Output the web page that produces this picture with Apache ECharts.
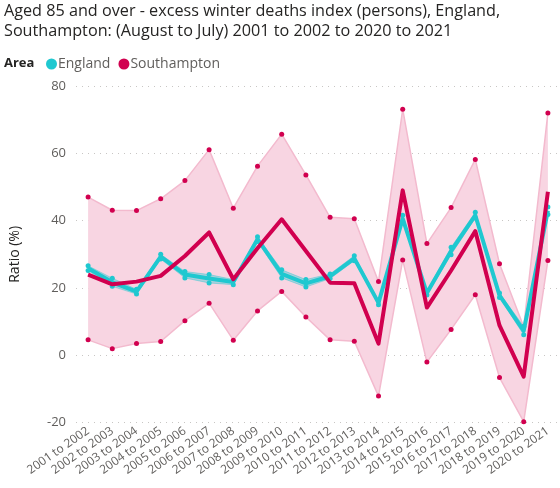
<!DOCTYPE html>
<html>
<head>
<meta charset="utf-8">
<script src="https://cdn.jsdelivr.net/npm/echarts@6/dist/echarts.min.js"></script>
<style>
html,body{margin:0;padding:0;background:#fff;}
#chart{width:560px;height:488px;}
</style>
</head>
<body>
<div id="chart"></div>
<script>
const categories = ['2001 to 2002','2002 to 2003','2003 to 2004','2004 to 2005','2005 to 2006','2006 to 2007','2007 to 2008','2008 to 2009','2009 to 2010','2010 to 2011','2011 to 2012','2012 to 2013','2013 to 2014','2014 to 2015','2015 to 2016','2016 to 2017','2017 to 2018','2018 to 2019','2019 to 2020','2020 to 2021'];

const englandValues = [25.9, 21.7, 18.9, 29.3, 24.0, 22.8, 21.8, 34.5, 24.2, 21.4, 23.5, 28.8, 15.6, 40.6, 18.5, 31.0, 41.6, 17.8, 7.3, 43.0];
const englandLower  = [25.2, 20.5, 18.2, 28.6, 23.0, 21.5, 21.0, 33.8, 23.0, 20.3, 22.8, 28.1, 15.0, 39.8, 17.9, 29.9, 40.8, 17.2, 6.1, 41.8];
const englandUpper  = [26.6, 22.9, 19.6, 30.0, 24.9, 24.0, 22.5, 35.2, 25.4, 22.5, 24.2, 29.6, 16.3, 41.6, 19.1, 32.1, 42.5, 18.5, 8.6, 44.1];

const southamptonValues = [24.0, 21.1, 21.9, 23.6, 29.5, 36.5, 22.6, 31.8, 40.4, 31.0, 21.6, 21.4, 3.5, 49.0, 14.2, 25.2, 36.9, 8.9, -6.3, 48.6];
const southamptonLower  = [4.6, 2.0, 3.5, 4.1, 10.3, 15.5, 4.5, 13.2, 19.0, 11.4, 4.6, 4.2, -12.1, 28.3, -2.0, 7.7, 18.0, -6.6, -19.7, 28.2];
const southamptonUpper  = [47.0, 43.1, 43.0, 46.5, 51.9, 61.1, 43.7, 56.2, 65.7, 53.6, 41.0, 40.6, 21.9, 73.1, 33.2, 43.9, 58.2, 27.2, 8.5, 72.0];

const yTicks = [-20, 0, 20, 40, 60, 80];

const RED = '#D1004F';
const CYAN = '#1FC8D0';
const FONT = '"Open Sans", "Noto Sans", sans-serif';

const sDiff = southamptonUpper.map((u, i) => +(u - southamptonLower[i]).toFixed(2));
const eDiff = englandUpper.map((u, i) => +(u - englandLower[i]).toFixed(2));

const chart = echarts.init(document.getElementById('chart'));
chart.setOption({
  animation: false,
  textStyle: { fontFamily: FONT },
  title: [
    {
      text: 'Aged 85 and over - excess winter deaths index (persons), England,\nSouthampton: (August to July) 2001 to 2002 to 2020 to 2021',
      left: 4, top: 1, padding: 0,
      textStyle: { fontFamily: FONT, fontSize: 16.2, fontWeight: 'normal', color: '#252423', lineHeight: 20 }
    },
    {
      text: 'Area',
      left: 4, top: 57, padding: 0,
      textStyle: { fontFamily: FONT, fontSize: 13, fontWeight: 'bold', color: '#252423' }
    }
  ],
  legend: {
    data: [{ name: 'England' }, { name: 'Southampton' }],
    left: 41, top: 52,
    icon: 'circle',
    itemWidth: 11, itemHeight: 11, itemGap: 8,
    textStyle: { fontFamily: FONT, fontSize: 14, color: '#605E5C', padding: [0, 0, 0, -4] }
  },
  grid: { left: 75, right: -7, top: 86, bottom: 65.3, containLabel: false },
  xAxis: {
    type: 'category',
    data: categories,
    boundaryGap: true,
    axisLine: { show: false },
    axisTick: { show: false },
    axisLabel: { rotate: 35, margin: 7, fontSize: 12, color: '#605E5C', fontFamily: FONT, interval: 0 },
    splitLine: { show: false }
  },
  yAxis: {
    type: 'value',
    min: yTicks[0], max: yTicks[yTicks.length - 1], interval: 20,
    name: 'Ratio (%)',
    nameLocation: 'middle',
    nameGap: 54,
    nameTextStyle: { fontFamily: FONT, fontSize: 14, color: '#252423' },
    axisLine: { show: false },
    axisTick: { show: false },
    axisLabel: { fontSize: 13, color: '#605E5C', margin: 10, fontFamily: FONT },
    splitLine: { show: true, lineStyle: { type: [1, 5], color: '#C8C6C4', width: 1 } }
  },
  series: [
    {
      name: 'sLowBase', type: 'line', data: southamptonLower, stack: 'sband', stackStrategy: 'all',
      symbol: 'none', lineStyle: { opacity: 0 }, silent: true, z: 1
    },
    {
      name: 'sBand', type: 'line', data: sDiff, stack: 'sband', stackStrategy: 'all',
      symbol: 'none', lineStyle: { opacity: 0 }, areaStyle: { color: '#F8D5E2', opacity: 1 }, silent: true, z: 1
    },
    {
      name: 'sUpper', type: 'line', data: southamptonUpper,
      symbol: 'circle', symbolSize: 5, itemStyle: { color: RED },
      lineStyle: { color: '#F3BACE', width: 1.5 }, silent: true, z: 2
    },
    {
      name: 'sLower', type: 'line', data: southamptonLower,
      symbol: 'circle', symbolSize: 5, itemStyle: { color: RED },
      lineStyle: { color: '#F3BACE', width: 1.5 }, silent: true, z: 2
    },
    {
      name: 'eLowBase', type: 'line', data: englandLower, stack: 'eband', stackStrategy: 'all',
      symbol: 'none', lineStyle: { opacity: 0 }, silent: true, z: 3
    },
    {
      name: 'eBand', type: 'line', data: eDiff, stack: 'eband', stackStrategy: 'all',
      symbol: 'none', lineStyle: { opacity: 0 }, areaStyle: { color: 'rgba(31,200,208,0.35)', opacity: 1 }, silent: true, z: 3
    },
    {
      name: 'eUpper', type: 'line', data: englandUpper,
      symbol: 'circle', symbolSize: 5, itemStyle: { color: CYAN },
      lineStyle: { color: 'rgba(31,200,208,0.4)', width: 1 }, silent: true, z: 3
    },
    {
      name: 'eLower', type: 'line', data: englandLower,
      symbol: 'circle', symbolSize: 5, itemStyle: { color: CYAN },
      lineStyle: { color: 'rgba(31,200,208,0.4)', width: 1 }, silent: true, z: 3
    },
    {
      name: 'England', type: 'line', data: englandValues,
      symbol: 'none', color: CYAN, itemStyle: { color: CYAN },
      lineStyle: { color: CYAN, width: 4, join: 'round' }, z: 4
    },
    {
      name: 'Southampton', type: 'line', data: southamptonValues,
      symbol: 'none', color: RED, itemStyle: { color: RED },
      lineStyle: { color: RED, width: 4, join: 'round' }, z: 5
    }
  ]
});
</script>
</body>
</html>
